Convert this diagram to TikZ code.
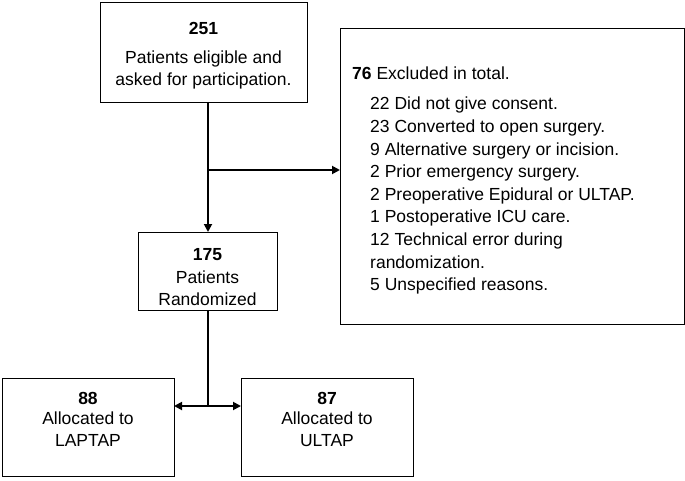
\documentclass[tikz,border=0pt]{standalone}
\usepackage{fontspec}
\setmainfont{Liberation Sans}
\usetikzlibrary{arrows.meta}
\begin{document}
\begin{tikzpicture}[x=1pt,y=-1pt,
  box/.style={draw,line width=0.9pt},
  conn/.style={line width=1.8pt},
  arr/.style={conn,-{Triangle[length=8pt,width=8pt]}},
  txt/.style={font=\fontsize{17.5}{22}\selectfont,align=center,inner sep=0}]
\useasboundingbox (0,0) rectangle (685,481);
\draw[box] (100,2) rectangle (307,102);
\draw[box] (340,28) rectangle (684,324);
\draw[box] (138,232) rectangle (277,310);
\draw[box] (2,378) rectangle (174,476);
\draw[box] (241,378) rectangle (413,476);
\node[txt] (n251) at (203.5,28) {\textbf{251}};
\node[txt] (n251b) at (203.5,70) {Patients eligible and\\asked for participation.};
\node[txt] (n175) at (207.5,255) {\textbf{175}};
\node[txt] (n175b) at (207.5,288) {Patients\\Randomized};
\node[txt] (n88) at (88,398) {\textbf{88}};
\node[txt] (n88b) at (88,429) {Allocated to\\LAPTAP};
\node[txt] (n87) at (327,398) {\textbf{87}};
\node[txt] (n87b) at (327,429) {Allocated to\\ULTAP};
\node[txt,anchor=west] (ex) at (352,73) {\textbf{76} Excluded in total.};
\node[txt,anchor=north west,align=left,font=\fontsize{17.5}{22.6}\selectfont] (exl) at (370,97) {22 Did not give consent.\\23 Converted to open surgery.\\9 Alternative surgery or incision.\\2 Prior emergency surgery.\\2 Preoperative Epidural or ULTAP.\\1 Postoperative ICU care.\\12 Technical error during\\randomization.\\5 Unspecified reasons.};
\coordinate (a) at (208,102);
\coordinate (b) at (208,232);
\coordinate (m) at (208,170);
\coordinate (e) at (340,170);
\coordinate (c) at (208,310);
\coordinate (d) at (208,406);
\coordinate (l) at (174,406);
\coordinate (r) at (241,406);
\draw[arr] (a) -- (b);
\draw[arr] (m) -- (e);
\draw[conn] (c) -- (d);
\draw[arr] (d) -- (l);
\draw[arr] (d) -- (r);
\end{tikzpicture}
\end{document}
